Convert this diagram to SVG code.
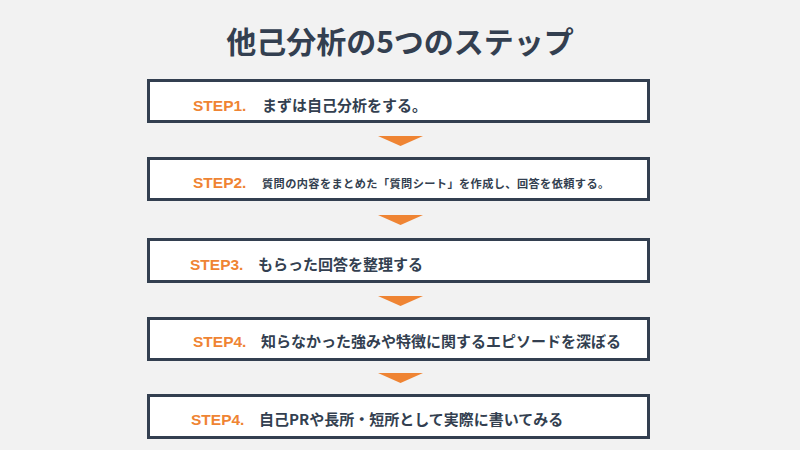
<svg xmlns="http://www.w3.org/2000/svg" width="800" height="450" viewBox="0 0 800 450">
<style>
.bg{fill:#f2f2f2}
.box{fill:#ffffff;stroke:#333f50;stroke-width:3}
.arr{fill:#ef8433}
.title{font-family:"Noto Sans CJK JP","Noto Sans",sans-serif;font-weight:bold;font-size:30px;fill:#333f50}
.step{font-family:"Liberation Sans","Noto Sans CJK JP",sans-serif;font-weight:bold;font-size:15.5px;fill:#ef8433}
.txt{font-family:"Noto Sans CJK JP",sans-serif;font-weight:bold;font-size:15px;fill:#333f50}
.small{font-size:11.2px;letter-spacing:0.4px}
</style>
<rect class="bg" x="0" y="0" width="800" height="450"/>
<text class="title" x="400" y="53" text-anchor="middle">他己分析の5つのステップ</text>
<g id="connectors">
<polygon class="arr" points="378,136 423,136 400.5,146"/>
<polygon class="arr" points="378,215 423,215 400.5,225"/>
<polygon class="arr" points="378,296 423,296 400.5,306"/>
<polygon class="arr" points="378,373 423,373 400.5,383"/>
</g>
<g id="step1">
<rect class="box" x="148.5" y="80.5" width="500" height="41"/>
<text class="step" x="193" y="111">STEP1.</text>
<text class="txt" x="262" y="111">まずは自己分析をする。</text>
</g>
<g id="step2">
<rect class="box" x="148.5" y="158.5" width="500" height="41"/>
<text class="step" x="193" y="187.5">STEP2.</text>
<text class="txt small" x="262" y="187.5">質問の内容をまとめた「質問シート」を作成し、回答を依頼する。</text>
</g>
<g id="step3">
<rect class="box" x="148.5" y="239.5" width="500" height="42"/>
<text class="step" x="190" y="270">STEP3.</text>
<text class="txt" x="258" y="270">もらった回答を整理する</text>
</g>
<g id="step4">
<rect class="box" x="148.5" y="318.5" width="500" height="41"/>
<text class="step" x="193" y="347">STEP4.</text>
<text class="txt" x="261" y="347">知らなかった強みや特徴に関するエピソードを深ぼる</text>
</g>
<g id="step5">
<rect class="box" x="148.5" y="395.5" width="500" height="42"/>
<text class="step" x="191" y="425">STEP4.</text>
<text class="txt" x="259" y="425">自己PRや長所・短所として実際に書いてみる</text>
</g>
</svg>
